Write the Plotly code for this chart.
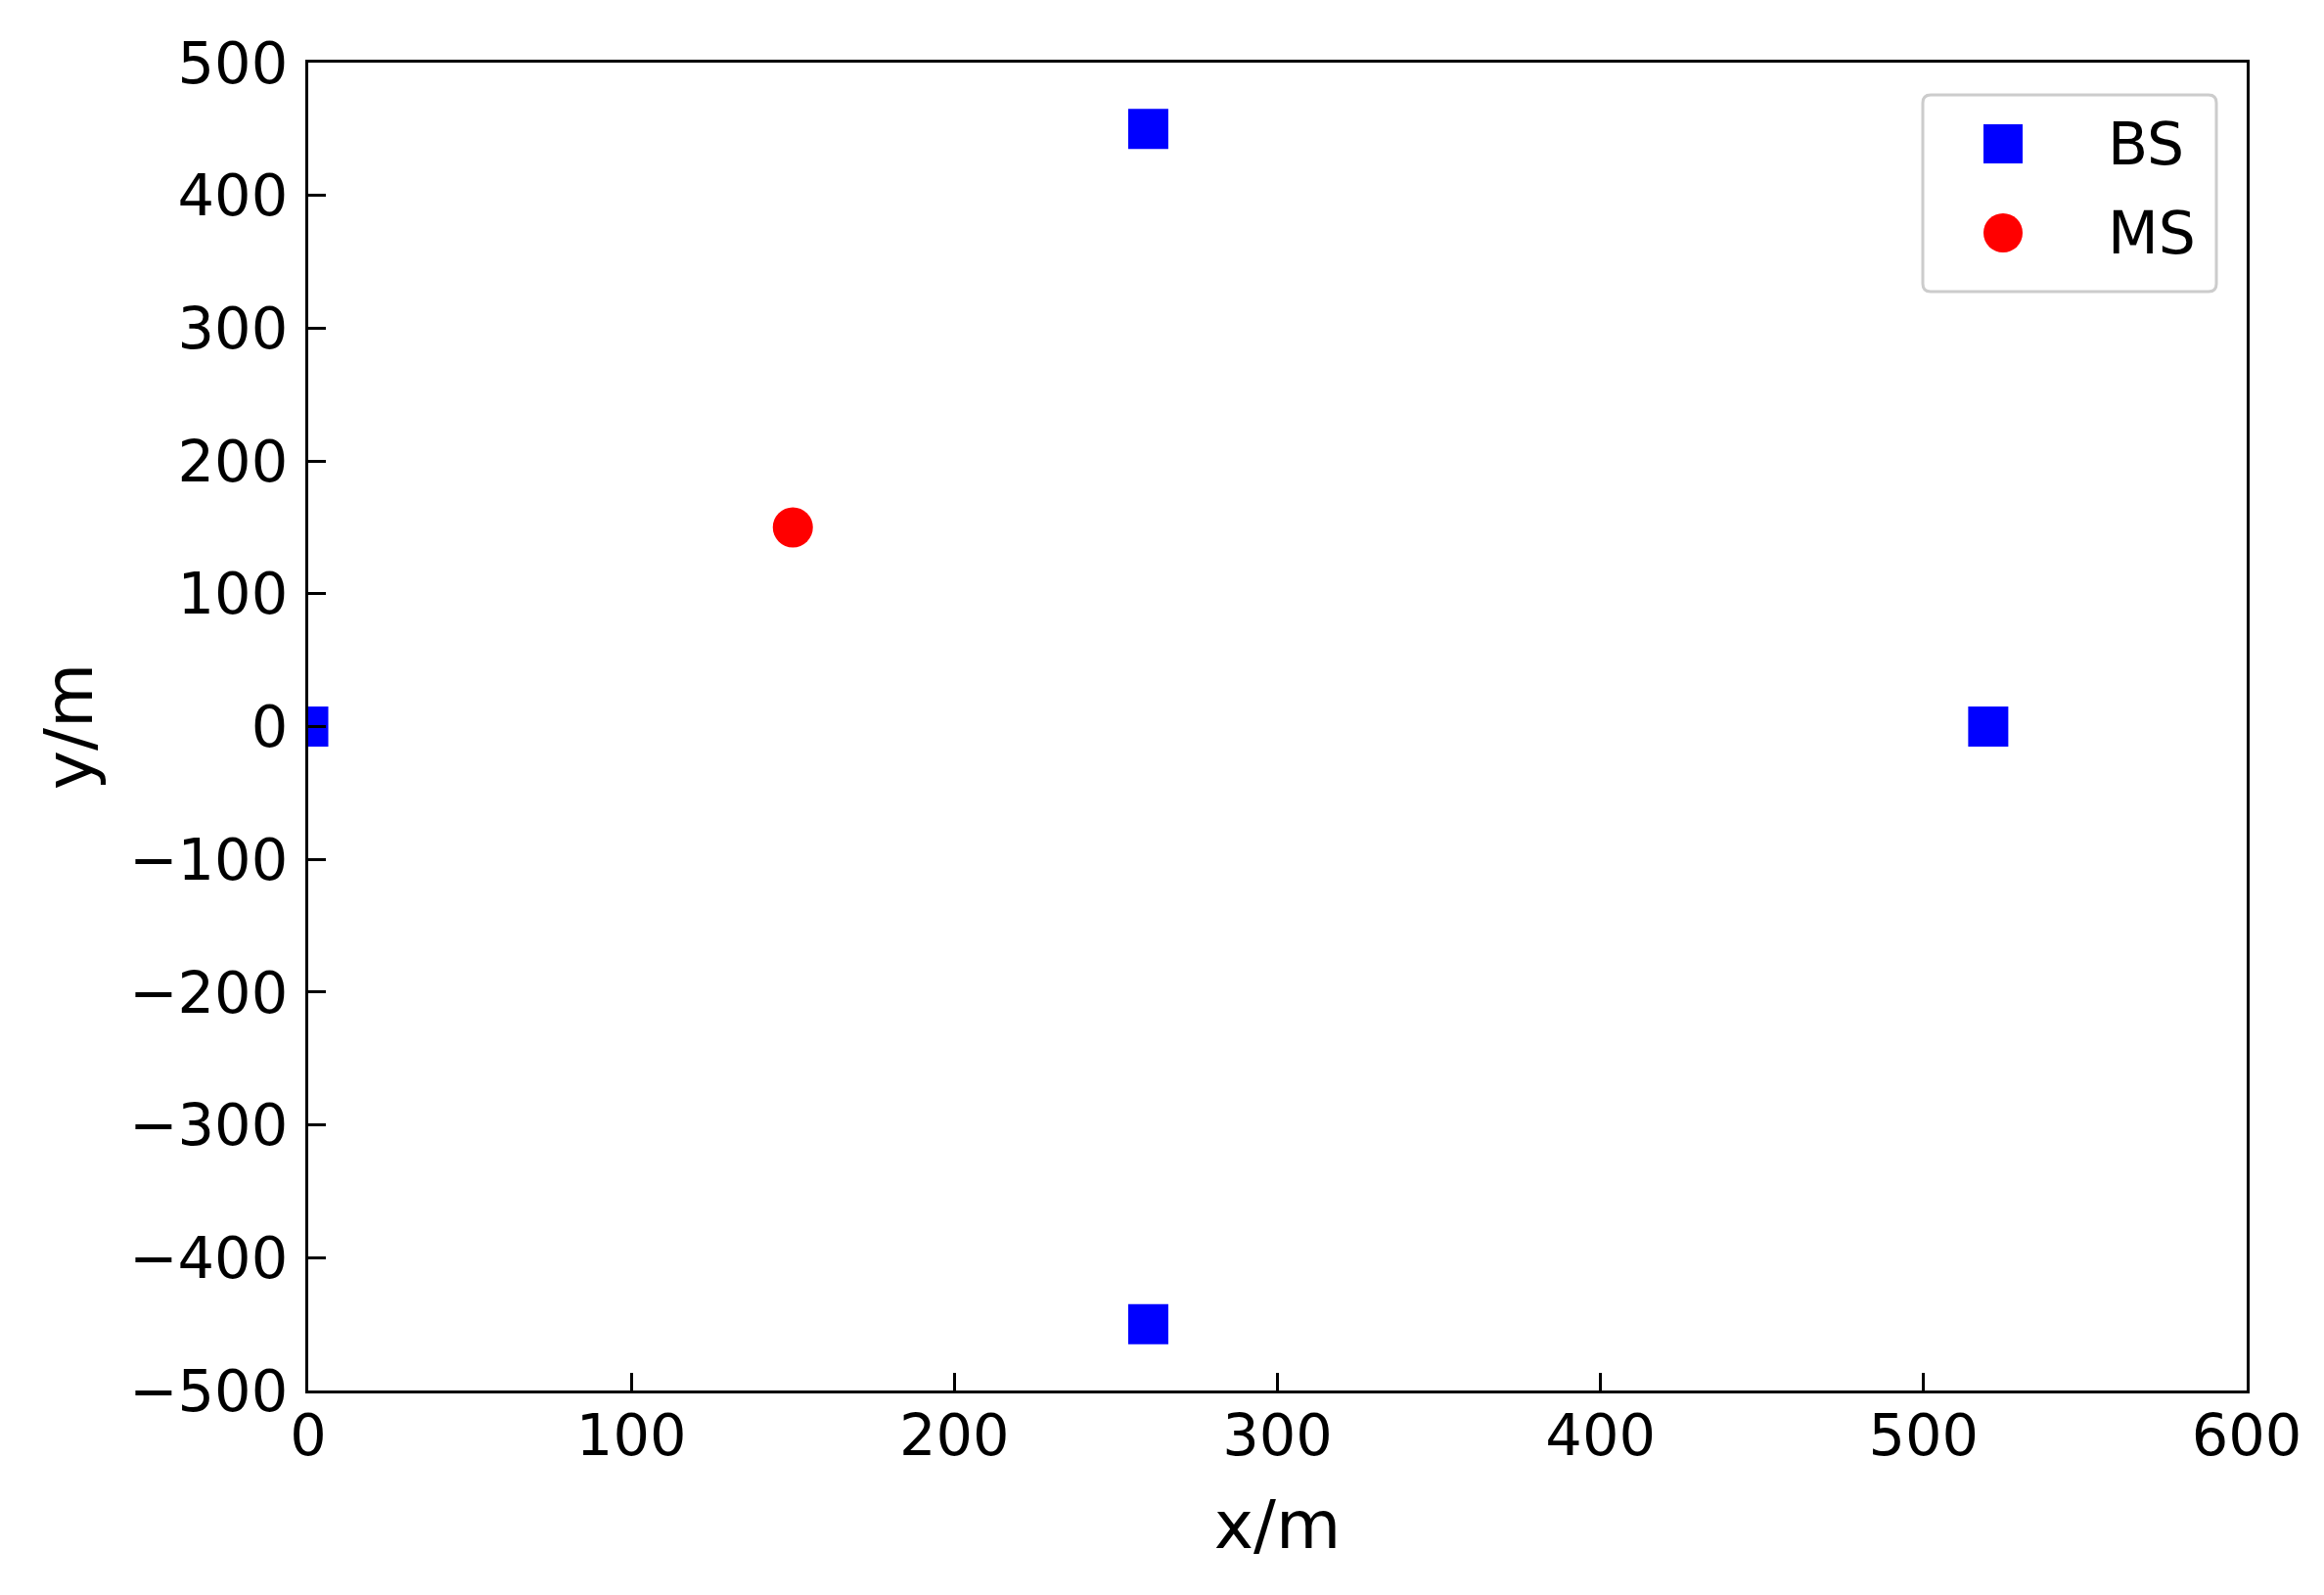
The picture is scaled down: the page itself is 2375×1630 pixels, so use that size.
import plotly.graph_objects as go

# Data
bs_x = [0, 260, 260, 520]
bs_y = [0, 450, -450, 0]
ms_x = [150]
ms_y = [150]
x_ticks = [0, 100, 200, 300, 400, 500, 600]
y_ticks = [-500, -400, -300, -200, -100, 0, 100, 200, 300, 400, 500]
legend_labels = ["BS", "MS"]

OFF = 8  # default page body margin
W, H = 2375 - 2 * OFF, 1630 - 2 * OFF
PL, PR, PT, PB = 315 - OFF, 2296 - OFF, 64 - OFF, 1421 - OFF  # plot area in figure px
L, R, T, B = PL, W - PR, PT, H - PB
PW, PH = W - L - R, H - T - B
FONT = "DejaVu Sans"


def px_x(p):
    # page pixel -> paper fraction
    return (p - OFF - L) / PW


def px_y(p):
    return (H - B - (p - OFF)) / PH


fig = go.Figure()
fig.add_trace(go.Scatter(x=bs_x, y=bs_y, mode="markers", name=legend_labels[0],
                         marker=dict(symbol="square", size=41, color="#0000FF",
                                     line=dict(width=0)),
                         cliponaxis=True, showlegend=False))
fig.add_trace(go.Scatter(x=ms_x, y=ms_y, mode="markers", name=legend_labels[1],
                         marker=dict(symbol="circle", size=41, color="#FF0000",
                                     line=dict(width=0)),
                         cliponaxis=True, showlegend=False))

axis_common = dict(
    showgrid=False, zeroline=False, showline=True, linecolor="black", linewidth=3,
    mirror=True, ticks="inside", ticklen=18, tickwidth=3, tickcolor="black",
    tickfont=dict(family=FONT, size=59, color="black"),
)
fig.update_xaxes(range=[0, 600], tickvals=x_ticks, ticklabelstandoff=-8,
                 title=dict(text="x/m", font=dict(family=FONT, size=68, color="black"), standoff=35),
                 **axis_common)
fig.update_yaxes(range=[-500, 500], tickvals=y_ticks, ticklabelstandoff=6,
                 title=dict(text="y/m", font=dict(family=FONT, size=68, color="black"), standoff=16),
                 **axis_common)

# Legend (drawn manually to reproduce the large marker symbols)
x0, x1 = px_x(1965), px_x(2265)
y0, y1 = px_y(298), px_y(97)
rx, ry = 8 / PW, 8 / PH
path = (f"M {x0+rx},{y1} L {x1-rx},{y1} Q {x1},{y1} {x1},{y1-ry} "
        f"L {x1},{y0+ry} Q {x1},{y0} {x1-rx},{y0} L {x0+rx},{y0} "
        f"Q {x0},{y0} {x0},{y0+ry} L {x0},{y1-ry} Q {x0},{y1} {x0+rx},{y1} Z")
fig.add_shape(type="path", path=path, xref="paper", yref="paper",
              line=dict(color="#CCCCCC", width=3), fillcolor="rgba(255,255,255,0.8)")
s = 20
fig.add_shape(type="rect", xref="paper", yref="paper",
              x0=px_x(2047 - s), x1=px_x(2047 + s), y0=px_y(147 + s), y1=px_y(147 - s),
              fillcolor="#0000FF", line=dict(width=0))
fig.add_shape(type="circle", xref="paper", yref="paper",
              x0=px_x(2047 - s), x1=px_x(2047 + s), y0=px_y(238 + s), y1=px_y(238 - s),
              fillcolor="#FF0000", line=dict(width=0))
for lab, yc in zip(legend_labels, [147, 238]):
    fig.add_annotation(text=lab, xref="paper", yref="paper", x=px_x(2152), y=px_y(yc),
                       xanchor="left", yanchor="middle", showarrow=False,
                       font=dict(family=FONT, size=60, color="black"))

fig.update_layout(
    width=W, height=H, margin=dict(l=L, r=R, t=T, b=B),
    paper_bgcolor="white", plot_bgcolor="white", showlegend=False,
)
fig.write_html("out.html")
